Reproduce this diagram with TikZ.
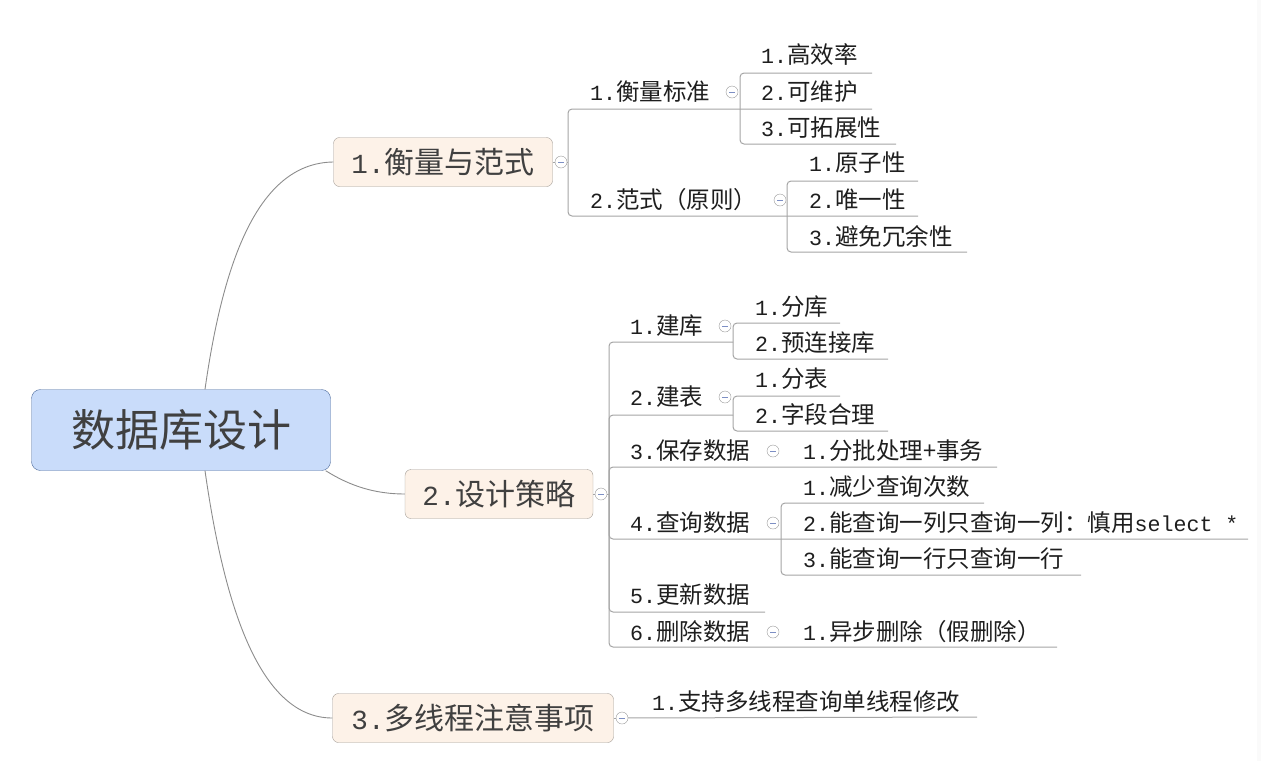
\documentclass[tikz,border=0pt]{standalone}
\usepackage{fontspec}
\setmainfont{Noto Sans CJK SC}
\newfontfamily\mono[Scale=0.92]{Liberation Mono}
\definecolor{rootfill}{HTML}{C9DCFA}
\definecolor{rootline}{HTML}{4F6C9C}
\definecolor{topicfill}{HTML}{FDF2E8}
\definecolor{topicline}{HTML}{A39D97}
\definecolor{twiggray}{HTML}{A5A5A5}
\definecolor{ink}{HTML}{1E1E1E}
\definecolor{deepink}{HTML}{404040}
\definecolor{foldmark}{HTML}{7D8FC4}
\newcommand\nr[1]{{\mono#1.}}
\tikzset{
  centre/.style={rounded corners=9pt,fill=rootfill,draw=rootline,text=deepink,
    font=\fontsize{44}{50}\selectfont,minimum width=299pt,minimum height=81pt},
  topic/.style={rounded corners=6pt,fill=topicfill,draw=topicline,text=deepink,
    font=\fontsize{30}{36}\selectfont,minimum height=49pt},
  leaf/.style={anchor=west,inner sep=0pt,text=ink,font=\fontsize{23.5}{28}\selectfont},
  fold/.style={circle,draw=black!40,fill=white,minimum size=12pt,inner sep=0pt,
    path picture={\draw[foldmark,line width=1pt]
      ([xshift=-3pt]path picture bounding box.center) -- ([xshift=3pt]path picture bounding box.center);}},
  twig/.style={draw=twiggray,line width=1pt,rounded corners=4pt},
  stem/.style={draw=black!45,line width=0.9pt},
}

\begin{document}
\begin{tikzpicture}[x=1pt,y=-1pt]
  \useasboundingbox (0,0) rectangle (1261,761);
  \fill[black!2] (1257,0) rectangle (1261,761);

  % centre and main branches
  \node[centre] (root) at (181,430) {数据库设计};
  \node[topic,minimum width=219pt] (norm) at (443,162) {\nr1衡量与范式};
  \node[topic,minimum width=188pt] (plan) at (499,494) {\nr2设计策略};
  \node[topic,minimum width=281pt] (thread) at (473,718) {\nr3多线程注意事项};
  \draw[stem] ([xshift=24pt]root.north) .. controls (222,270) and (255,163) .. (norm.west);
  \draw[stem] ([xshift=-5pt]root.south east) .. controls (350,486) and (375,494) .. (plan.west);
  \draw[stem] ([xshift=24pt]root.south) .. controls (222,590) and (255,718) .. (thread.west);

  % hubs where the brackets split
  \coordinate (hn) at (568,162);
  \coordinate (hm) at (740,109);
  \coordinate (hp) at (787,216);
  \coordinate (hs) at (609,494);
  \coordinate (hk) at (733,342);
  \coordinate (hb) at (733,415);
  \coordinate (hq) at (781,539);

  % 1. norms
  \draw[twig] (norm) -- (hn);
  \draw[twig] (hn) |- (872,109);
  \draw[twig] (hn) |- (918,216);
  \foreach \y/\r in {73/872,144/896} \draw[twig] (hm) |- (\r,\y);
  \foreach \y/\r in {181/918,252/967} \draw[twig] (hp) |- (\r,\y);
  \node[fold] (fnorm) at (561,162) {};
  \node[leaf] (std) at (590,92) {\nr1衡量标准};
  \node[leaf] (form) at (590,200) {\nr2范式（原则）};
  \node[fold] (fstd) at (732,92) {};
  \node[fold] (fform) at (780,200) {};
  \node[leaf] (fast) at (761,55) {\nr1高效率};
  \node[leaf] (keep) at (761,92) {\nr2可维护};
  \node[leaf] (grow) at (761,128) {\nr3可拓展性};
  \node[leaf] (atom) at (809,163) {\nr1原子性};
  \node[leaf] (uniq) at (809,200) {\nr2唯一性};
  \node[leaf] (lean) at (809,236) {\nr3避免冗余性};

  % 2. design
  \draw[twig] (plan) -- (hs);
  \foreach \y/\r in {342/733,415/733,467/997,539/1248,612/765,647/1057}
    \draw[twig] (hs) |- (\r,\y);
  \foreach \y/\r in {323/840,359/888} \draw[twig] (hk) |- (\r,\y);
  \foreach \y/\r in {396/840,431/888} \draw[twig] (hb) |- (\r,\y);
  \foreach \y/\r in {503/984,575/1081} \draw[twig] (hq) |- (\r,\y);
  \node[fold] (fplan) at (601,494) {};
  \node[leaf] (db) at (630,326) {\nr1建库};
  \node[leaf] (split) at (755,307) {\nr1分库};
  \node[leaf] (pool) at (755,343) {\nr2预连接库};
  \node[leaf] (tab) at (630,397) {\nr2建表};
  \node[leaf] (shard) at (755,379) {\nr1分表};
  \node[leaf] (field) at (755,415) {\nr2字段合理};
  \node[leaf] (save) at (630,451) {\nr3保存数据};
  \node[leaf] (batch) at (803,451) {\nr1分批处理+事务};
  \node[leaf] (query) at (630,523) {\nr4查询数据};
  \node[leaf] (fewer) at (803,487) {\nr1减少查询次数};
  \node[leaf] (cols) at (803,523) {\nr2能查询一列只查询一列：慎用{\mono select *}};
  \node[leaf] (rows) at (803,559) {\nr3能查询一行只查询一行};
  \node[leaf] (upd) at (630,595) {\nr5更新数据};
  \node[leaf] (del) at (630,632) {\nr6删除数据};
  \node[leaf] (soft) at (803,632) {\nr1异步删除（假删除）};
  \node[fold] (fdb) at (725,326) {};
  \node[fold] (ftab) at (725,397) {};
  \node[fold] (fsave) at (773,451) {};
  \node[fold] (fquery) at (773,523) {};
  \node[fold] (fdel) at (773,632) {};

  % 3. threads
  \node[fold] (fthread) at (622,718) {};
  \draw[twig] (thread) -- (fthread);
  \coordinate (tend) at (977,717);
  \draw[twig] (fthread) -- (tend);
  \node[leaf] (multi) at (652,702) {\nr1支持多线程查询单线程修改};
\end{tikzpicture}
\end{document}
